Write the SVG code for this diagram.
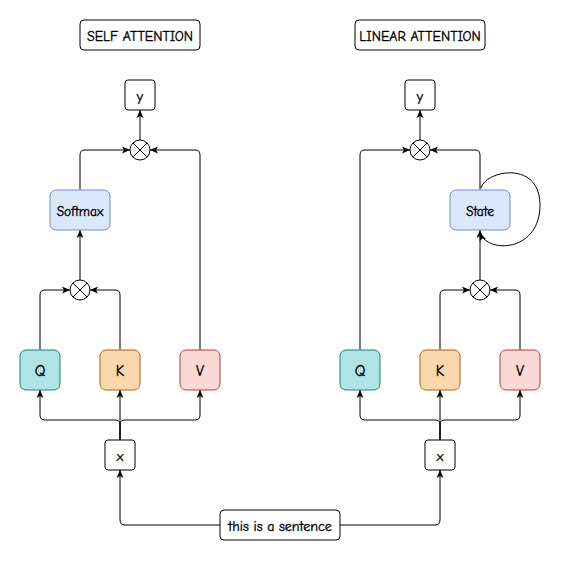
<svg xmlns="http://www.w3.org/2000/svg" width="561" height="561" viewBox="0 0 561 561">
<style>
text{font-family:"Comic Neue","Liberation Sans",sans-serif;font-size:14px;fill:#000;stroke:#000;stroke-width:0.35;text-anchor:middle;dominant-baseline:central}
.box{fill:#fff;stroke:#000;stroke-width:1}
.blue{fill:#dae8fc;stroke:#6c8ebf}
.q{fill:#b0e3e6;stroke:#0e8088}
.k{fill:#fad7ac;stroke:#b46504}
.v{fill:#fad9d5;stroke:#ae4132}
.big{font-size:15px}
.mid{font-size:13.5px}
.op circle{fill:#fff;stroke:#000}
.op path{stroke:#000;fill:none}
#connectors path{fill:none;stroke:#000;stroke-width:1}
</style>
<defs>
<marker id="arr" viewBox="0 0 8 8" refX="8" refY="4" markerWidth="8" markerHeight="8" markerUnits="userSpaceOnUse" orient="auto">
<path d="M0,0.5 L8,4 L0,7.5 L2,4 z" fill="#000"/>
</marker>
</defs>
<rect width="561" height="561" fill="#fff"/>
<g id="connectors">
<path d="M220 525 L125 525 Q120 525 120 520 L120 470" marker-end="url(#arr)"/>
<path d="M120 440 L120 425 Q120 420 115 420 L45 420 Q40 420 40 415 L40 390" marker-end="url(#arr)"/>
<path d="M120 440 L120 390" marker-end="url(#arr)"/>
<path d="M120 440 L120 425 Q120 420 125 420 L195 420 Q200 420 200 415 L200 390" marker-end="url(#arr)"/>
<path d="M40 350 L40 295 Q40 290 45 290 L70 290" marker-end="url(#arr)"/>
<path d="M120 350 L120 295 Q120 290 115 290 L90 290" marker-end="url(#arr)"/>
<path d="M80 280 L80 230" marker-end="url(#arr)"/>
<path d="M80 190 L80 155 Q80 150 85 150 L130 150" marker-end="url(#arr)"/>
<path d="M200 350 L200 155 Q200 150 195 150 L150 150" marker-end="url(#arr)"/>
<path d="M140 140 L140 110" marker-end="url(#arr)"/>
<path d="M340 525 L435 525 Q440 525 440 520 L440 470" marker-end="url(#arr)"/>
<path d="M440 440 L440 425 Q440 420 435 420 L365 420 Q360 420 360 415 L360 390" marker-end="url(#arr)"/>
<path d="M440 440 L440 390" marker-end="url(#arr)"/>
<path d="M440 440 L440 425 Q440 420 445 420 L515 420 Q520 420 520 415 L520 390" marker-end="url(#arr)"/>
<path d="M440 350 L440 295 Q440 290 445 290 L470 290" marker-end="url(#arr)"/>
<path d="M520 350 L520 295 Q520 290 515 290 L490 290" marker-end="url(#arr)"/>
<path d="M480 280 L480 230" marker-end="url(#arr)"/>
<path d="M360 350 L360 155 Q360 150 365 150 L410 150" marker-end="url(#arr)"/>
<path d="M480 190 L480 155 Q480 150 475 150 L430 150" marker-end="url(#arr)"/>
<path d="M420 140 L420 110" marker-end="url(#arr)"/>
<path d="M481 188 C486 170 540 160 540 205 C540 252 488 254 480 233" marker-end="url(#arr)"/>
</g>
<g id="title-self"><rect class="box" x="80" y="20" width="120" height="30" rx="4"/><text x="140" y="36">SELF ATTENTION</text></g>
<g id="title-linear"><rect class="box" x="355" y="20" width="130" height="30" rx="4"/><text x="420" y="36">LINEAR ATTENTION</text></g>
<g id="y-left"><rect class="box" x="125" y="80" width="30" height="30" rx="3"/><text x="140" y="96">y</text></g>
<g id="y-right"><rect class="box" x="405" y="80" width="30" height="30" rx="3"/><text x="420" y="96">y</text></g>
<g id="mul-top-left" class="op"><circle cx="140" cy="150" r="10"/><path d="M132.9 142.9 L147.1 157.1 M147.1 142.9 L132.9 157.1"/></g>
<g id="mul-bot-left" class="op"><circle cx="80" cy="290" r="10"/><path d="M72.9 282.9 L87.1 297.1 M87.1 282.9 L72.9 297.1"/></g>
<g id="mul-top-right" class="op"><circle cx="420" cy="150" r="10"/><path d="M412.9 142.9 L427.1 157.1 M427.1 142.9 L412.9 157.1"/></g>
<g id="mul-bot-right" class="op"><circle cx="480" cy="290" r="10"/><path d="M472.9 282.9 L487.1 297.1 M487.1 282.9 L472.9 297.1"/></g>
<g id="softmax"><rect class="blue" x="50" y="190" width="60" height="40" rx="6"/><text class="mid" x="80" y="211">Softmax</text></g>
<g id="state"><rect class="blue" x="450" y="190" width="60" height="40" rx="6"/><text class="mid" x="480" y="211">State</text></g>
<g id="q-left"><rect class="q" x="20" y="350" width="40" height="40" rx="6"/><text class="big" x="40" y="371">Q</text></g>
<g id="k-left"><rect class="k" x="100" y="350" width="40" height="40" rx="6"/><text class="big" x="120" y="371">K</text></g>
<g id="v-left"><rect class="v" x="180" y="350" width="40" height="40" rx="6"/><text class="big" x="200" y="371">V</text></g>
<g id="q-right"><rect class="q" x="340" y="350" width="40" height="40" rx="6"/><text class="big" x="360" y="371">Q</text></g>
<g id="k-right"><rect class="k" x="420" y="350" width="40" height="40" rx="6"/><text class="big" x="440" y="371">K</text></g>
<g id="v-right"><rect class="v" x="500" y="350" width="40" height="40" rx="6"/><text class="big" x="520" y="371">V</text></g>
<g id="x-left"><rect class="box" x="105" y="440" width="30" height="30" rx="3"/><text x="120" y="456">x</text></g>
<g id="x-right"><rect class="box" x="425" y="440" width="30" height="30" rx="3"/><text x="440" y="456">x</text></g>
<g id="sentence"><rect class="box" x="220" y="510" width="120" height="30" rx="4"/><text x="280" y="526">this is a sentence</text></g>
</svg>
